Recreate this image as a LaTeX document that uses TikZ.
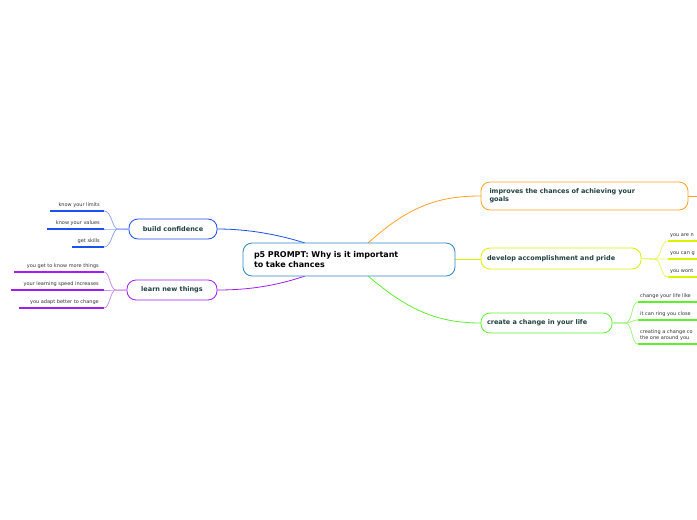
\documentclass[tikz,border=0pt]{standalone}
\usepackage{fontspec}
\setmainfont{DejaVu Sans}
\begin{document}
\begin{tikzpicture}[x=1pt,y=-1pt,
  topic/.style={draw,rounded corners=9pt,line width=0.8pt,fill=white,font=\bfseries\fontsize{6.5}{8}\selectfont,text=tc,align=left,inner sep=0pt},
  leaf/.style={font=\fontsize{5}{6}\selectfont,text=black!80,align=left,inner sep=1pt,anchor=south west},
  br/.style={line width=0.8pt},
  tl/.style={line width=1.2pt}]
\definecolor{tc}{HTML}{1F3F3F}
\definecolor{co}{HTML}{FFA126}
\definecolor{cy}{HTML}{DDF000}
\definecolor{cg}{HTML}{5EF02E}
\definecolor{cb}{HTML}{1E4FF0}
\definecolor{cp}{HTML}{A01EF0}
\definecolor{cc}{HTML}{2F86C8}
\useasboundingbox (0,0) rectangle (697,520);
\clip (0,0) rectangle (697,520);
% branches from center
\coordinate (cto) at (368,243);
\coordinate (cbo) at (368,276);
\coordinate (ctl) at (305,243);
\coordinate (cbl) at (305,276);
\draw[br,co] (cto) .. controls (410,205) and (440,196) .. (481,196);
\draw[br,cy] (455,259) -- (481,259);
\draw[br,cg] (cbo) .. controls (410,312) and (440,323) .. (481,323);
\draw[br,cb] (ctl) .. controls (270,232) and (240,229) .. (217,229);
\draw[br,cp] (cbl) .. controls (270,288) and (240,290) .. (217,290);
\draw[br,co] (688,196) -- (697,196);
% topics
\node[topic,draw=cc,minimum width=212pt,minimum height=33pt,text width=190pt,line width=0.8pt,font=\bfseries\fontsize{8}{10}\selectfont,text=black] (c) at (349,259.5) {p5 PROMPT: Why is it important\\to take chances};
\node[topic,draw=co,minimum width=207pt,minimum height=28pt,text width=190pt] (o) at (584.5,196) {improves the chances of achieving your\\goals};
\node[topic,draw=cy,minimum width=160pt,minimum height=21pt,text width=148pt] (y) at (561,258.5) {develop accomplishment and pride};
\node[topic,draw=cg,minimum width=131pt,minimum height=20pt,text width=119pt] (g) at (546.5,323) {create a change in your life};
\node[topic,draw=cb,minimum width=88pt,minimum height=20pt,align=center] (b) at (173,229) {build confidence};
\node[topic,draw=cp,minimum width=90pt,minimum height=20pt,align=center] (p) at (172,290) {learn new things};
% blue leaves
\coordinate (bl1) at (104,211); \coordinate (bl2) at (104,229); \coordinate (bl3) at (104,247);
\draw[tl,cb] (50,211) -- (bl1); \draw[tl,cb] (47,229) -- (bl2); \draw[tl,cb] (72,247) -- (bl3);
\node[leaf,anchor=south east] at (101,209) {know your limits};
\node[leaf,anchor=south east] at (101,227) {know your values};
\node[leaf,anchor=south east] at (101,245) {get skills};
\foreach \t in {bl1,bl2,bl3}{\draw[br,cb!50] (b.west) -- (118,229) .. controls (112,229) and (112,229|-\t) .. (\t);}
% purple leaves
\coordinate (pl1) at (104,272); \coordinate (pl2) at (104,290); \coordinate (pl3) at (104,308);
\draw[tl,cp] (14,272) -- (pl1); \draw[tl,cp] (11,290) -- (pl2); \draw[tl,cp] (19,308) -- (pl3);
\node[leaf,anchor=south east] at (100,270) {you get to know more things};
\node[leaf,anchor=south east] at (100,288) {your learning speed increases};
\node[leaf,anchor=south east] at (100,306) {you adapt better to change};
\foreach \t in {pl1,pl2,pl3}{\draw[br,cp!50] (p.west) -- (116,290) .. controls (110,290) and (110,290|-\t) .. (\t);}
% yellow leaves
\coordinate (yl1) at (668,241); \coordinate (yl2) at (668,259); \coordinate (yl3) at (668,277);
\draw[tl,cy] (yl1) -- (700,241); \draw[tl,cy] (yl2) -- (700,259); \draw[tl,cy] (yl3) -- (700,277);
\node[leaf] at (669,239) {you are n};
\node[leaf] at (669,257) {you can g};
\node[leaf] at (669,275) {you wont};
\foreach \t in {yl1,yl2,yl3}{\draw[br,cy!60] (y.east) -- (654,259) .. controls (662,259) and (660,259|-\t) .. (\t);}
% green leaves
\coordinate (gl1) at (638,302); \coordinate (gl2) at (638,320); \coordinate (gl3) at (638,344);
\draw[tl,cg] (gl1) -- (700,302); \draw[tl,cg] (gl2) -- (700,320); \draw[tl,cg] (gl3) -- (700,344);
\node[leaf] at (639,300) {change your life like};
\node[leaf] at (639,318) {it can ring you close};
\node[leaf] at (639,342) {creating a change co\\the one around you};
\foreach \t in {gl1,gl2,gl3}{\draw[br,cg!60] (g.east) -- (625,323) .. controls (633,323) and (631,323|-\t) .. (\t);}
\end{tikzpicture}
\end{document}
